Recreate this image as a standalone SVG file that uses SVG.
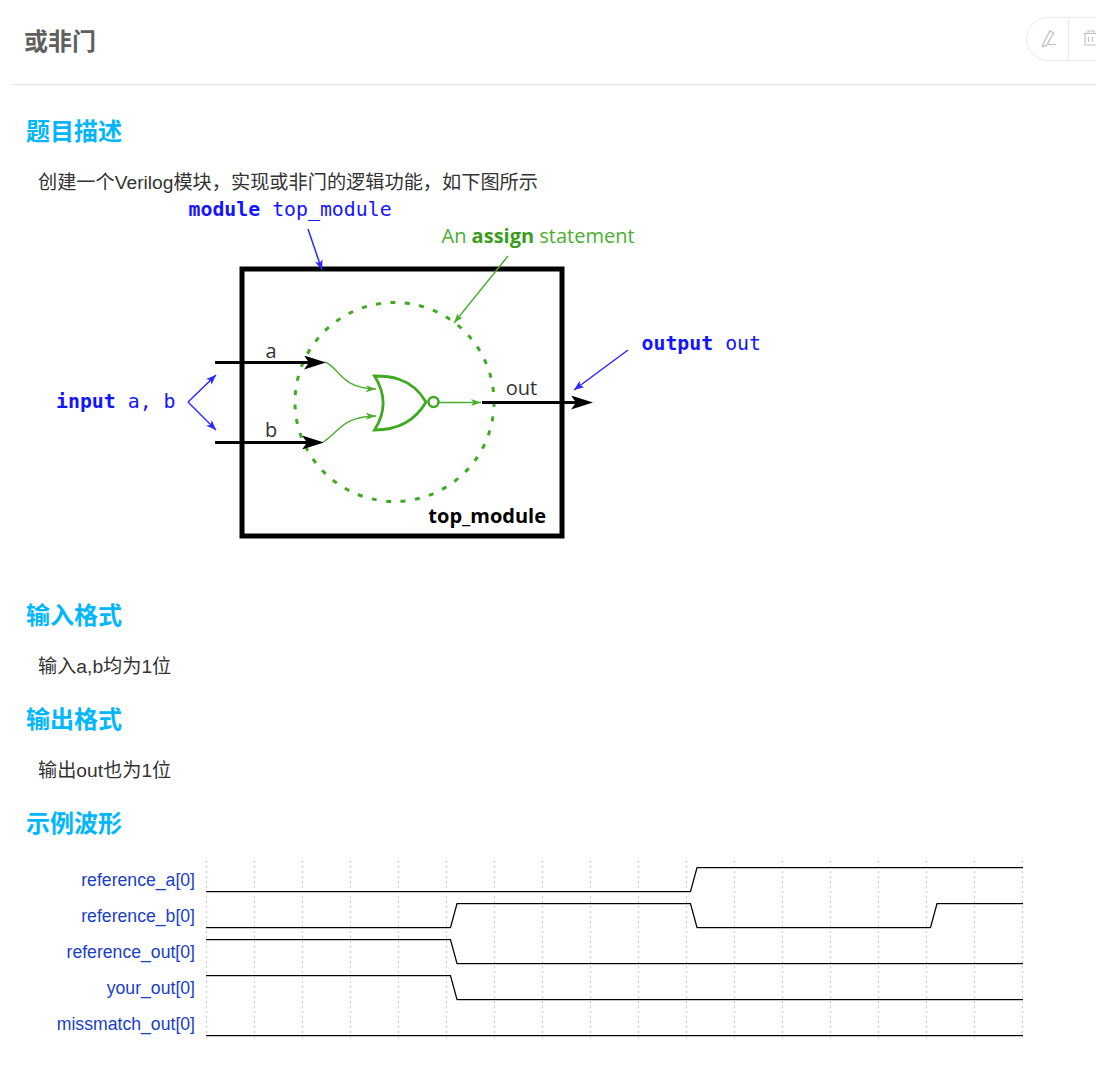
<svg xmlns="http://www.w3.org/2000/svg" width="1096" height="1081" viewBox="0 0 1096 1081">
<style>
.cn{font-family:"Liberation Sans","Noto Sans CJK SC",sans-serif}
.h{font-size:24px;font-weight:700;fill:#00b7ff}
.p{font-size:19.2px;fill:#333}
.sig{font-family:"Liberation Sans",Arial,sans-serif;font-size:17.65px;fill:#1a3ec8;text-anchor:end}
.wave{fill:none;stroke:#000;stroke-width:1.2}
.shadow{fill:none;stroke:#c8c8c8;stroke-width:1}
.grid{stroke:#cfcfcf;stroke-width:1.2;stroke-dasharray:2 3;fill:none}
.tick{stroke:#bdbdbd;stroke-width:1;fill:none}
.mono{font-family:"DejaVu Sans Mono",monospace;font-size:19.85px;fill:#1414ff}
.sans{font-family:"Open Sans","DejaVu Sans",sans-serif}
.blue{stroke:#2a2aff;stroke-width:1.5;fill:none}
.green{stroke:#4bae2f;stroke-width:1.4;fill:none}
.black{stroke:#000;stroke-width:2.8;fill:none}
</style>
<defs>
<marker id="ab" markerUnits="userSpaceOnUse" markerWidth="12" markerHeight="10" refX="10" refY="4" orient="auto"><path d="M0 0L10 4L0 8L2.5 4Z" fill="#2a2aff"/></marker>
<marker id="ag" markerUnits="userSpaceOnUse" markerWidth="12" markerHeight="10" refX="10" refY="4" orient="auto"><path d="M0 0.5L10 4L0 7.5L2.5 4Z" fill="#4bae2f"/></marker>
<marker id="ak" markerUnits="userSpaceOnUse" markerWidth="24" markerHeight="16" refX="12" refY="7" orient="auto"><path d="M0 0L22 7L0 14L5 7Z" fill="#000"/></marker>
<g id="waves">
<path d="M206 891.500H690.500L697 867.500H1023"/>
<path d="M206 927.500H450.500L457 903.500H690.500L697 927.500H930.500L937 903.500H1023"/>
<path d="M206 939.500H450.500L457 963.500H1023"/>
<path d="M206 975.500H450.500L457 999.500H1023"/>
<path d="M206 1035.500H1023"/>
</g>
</defs>
<rect width="1096" height="1081" fill="#fff"/>
<g id="header">
<text class="cn" x="24" y="50" font-size="24" font-weight="700" fill="#5f5f5f">或非门</text>
<path d="M1096 17.500H1048A21.500 21.500 0 0 0 1048 60.500H1096" fill="#fff" stroke="#e8eaf0"/>
<path d="M1068.500 18V60" stroke="#e8eaf0"/>
<path d="M1043 44L1050 31L1053.500 33L1046.500 45.500L1042.500 46.500Z" fill="none" stroke="#c0c0c8" stroke-width="1.300"/>
<path d="M1048 44.500H1056" stroke="#c0c0c8"/>
<path d="M1083.500 33.500H1096M1088 33.500V31H1094V33.500M1085 34V45H1096M1088.500 37V42M1092.500 37V42" fill="none" stroke="#c0c0c8" stroke-width="1.200"/>
<path d="M13 84.500H1096" stroke="#e0e0e6"/>
</g>
<g id="text">
<text class="cn h" x="26" y="140">题目描述</text>
<text class="cn p" x="38" y="189">创建一个Verilog模块，实现或非门的逻辑功能，如下图所示</text>
<text class="cn h" x="26" y="624">输入格式</text>
<text class="cn p" x="38" y="673">输入a,b均为1位</text>
<text class="cn h" x="26" y="728">输出格式</text>
<text class="cn p" x="38" y="777">输出out也为1位</text>
<text class="cn h" x="26" y="832">示例波形</text>
</g>
<g id="module-box"><rect x="242" y="269" width="320" height="267" fill="none" stroke="#000" stroke-width="5"/>
<text class="sans" x="546" y="523" text-anchor="end" font-size="20" font-weight="700" fill="#000">top_module</text></g>
<g id="assign-circle"><circle cx="394.500" cy="402" r="99.500" fill="none" stroke="#3fa922" stroke-width="3" stroke-dasharray="5 9.500"/></g>
<g id="nor-gate"><path d="M374.500 376C386 376 411 376 426 402C411 428 386 430 374.500 430C386 412 386 394 374.500 376Z" fill="none" stroke="#3fa922" stroke-width="2.800"/><circle cx="433.500" cy="402" r="5" fill="#fff" stroke="#3fa922" stroke-width="2.500"/></g>
<g id="connectors">
<path class="black" d="M215 362.500H316" marker-end="url(#ak)"/>
<path class="black" d="M215 442.500H314" marker-end="url(#ak)"/>
<path class="black" d="M482 402.500H583" marker-end="url(#ak)"/>
<path class="green" d="M325 362C340 368 340 388 376 389" marker-end="url(#ag)"/>
<path class="green" d="M323 442C340 432 340 417 376 416" marker-end="url(#ag)"/>
<path class="green" d="M439 402.500H481" marker-end="url(#ag)"/>
<path class="green" d="M508 256L454 323" marker-end="url(#ag)"/>
<path class="blue" d="M308 229L322 270" marker-end="url(#ab)"/>
<path class="blue" d="M188 402L216 375" marker-end="url(#ab)"/>
<path class="blue" d="M188 402L216 430" marker-end="url(#ab)"/>
<path class="blue" d="M628 350L574 390" marker-end="url(#ab)"/>
</g>
<g id="labels">
<text class="mono" x="188.500" y="216"><tspan font-weight="700">module</tspan> top_module</text>
<text class="mono" x="56" y="408"><tspan font-weight="700">input</tspan> a, b</text>
<text class="mono" x="641.500" y="350"><tspan font-weight="700">output</tspan> out</text>
<text class="sans" x="441.500" y="242.500" font-size="20" fill="#4bae2f">An <tspan font-weight="700" fill="#3a9d22">assign</tspan> statement</text>
<text class="sans" x="271" y="358" text-anchor="middle" font-size="20" fill="#333">a</text>
<text class="sans" x="271" y="437" text-anchor="middle" font-size="20" fill="#333">b</text>
<text class="sans" x="521.500" y="395" text-anchor="middle" font-size="20" fill="#333">out</text>
</g>
<g id="waveform">
<path class="grid" d="M206.500 861V1041M254.500 861V1041M302.500 861V1041M350.500 861V1041M398.500 861V1041M446.500 861V1041M494.500 861V1041M542.500 861V1041M590.500 861V1041M638.500 861V1041M686.500 861V1041M734.500 861V1041M782.500 861V1041M830.500 861V1041M878.500 861V1041M926.500 861V1041M974.500 861V1041M1022.500 861V1041"/>
<use href="#waves" class="shadow" y="1"/>
<use href="#waves" class="wave"/>
<text class="sig" x="195" y="886">reference_a[0]</text>
<text class="sig" x="195" y="922">reference_b[0]</text>
<text class="sig" x="195" y="958">reference_out[0]</text>
<text class="sig" x="195" y="994">your_out[0]</text>
<text class="sig" x="195" y="1030">missmatch_out[0]</text>
</g>
</svg>
